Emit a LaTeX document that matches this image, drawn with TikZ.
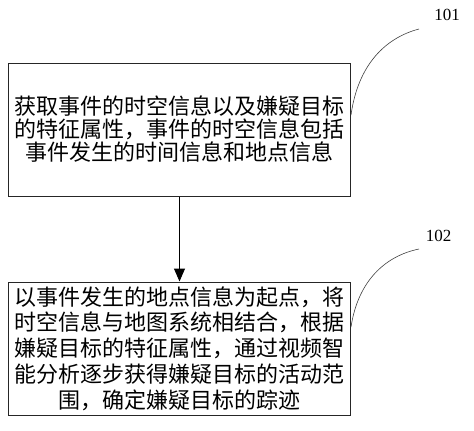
\documentclass[tikz,border=0pt]{standalone}
\usepackage{fontspec}
\newfontfamily\cjk{Noto Sans CJK SC}
\setmainfont{Liberation Serif}
\usetikzlibrary{arrows.meta}
\begin{document}
\begin{tikzpicture}[x=1pt,y=-1pt,
  stepbox/.style={draw=black!85,line width=1pt,minimum width=342pt,inner sep=0pt,align=center,font=\cjk\fontsize{22pt}{23pt}\selectfont},
  lead/.style={draw=black!75,line width=0.6pt},
  num/.style={font=\fontsize{17pt}{17pt}\selectfont,inner sep=0pt}]
\useasboundingbox (0,0) rectangle (474,431);
\node[stepbox,minimum height=133pt] (b1) at (179.5,129.5) {获取事件的时空信息以及嫌疑目标\\的特征属性，事件的时空信息包括\\事件发生的时间信息和地点信息};
\node[stepbox,minimum height=133pt,font=\cjk\fontsize{22pt}{25.7pt}\selectfont] (b2) at (179.5,348.5) {以事件发生的地点信息为起点，将\\时空信息与地图系统相结合，根据\\嫌疑目标的特征属性，通过视频智\\能分析逐步获得嫌疑目标的活动范\\围，确定嫌疑目标的踪迹};
\draw[line width=1pt,-{Triangle[width=11pt,length=13pt]}] (b1.south) -- (b2.north);
\node[num] (n1) at (447,15) {101};
\node[num] (n2) at (438.5,236) {102};
\coordinate (s1) at (b1.east |- 0,115);
\coordinate (e1) at (419,29);
\coordinate (s2) at (b2.east |- 0,327);
\coordinate (e2) at (419,249);
\draw[lead] (s1) .. controls (358,65) and (385,38) .. (e1);
\draw[lead] (s2) .. controls (358,281) and (385,256) .. (e2);
\end{tikzpicture}
\end{document}
